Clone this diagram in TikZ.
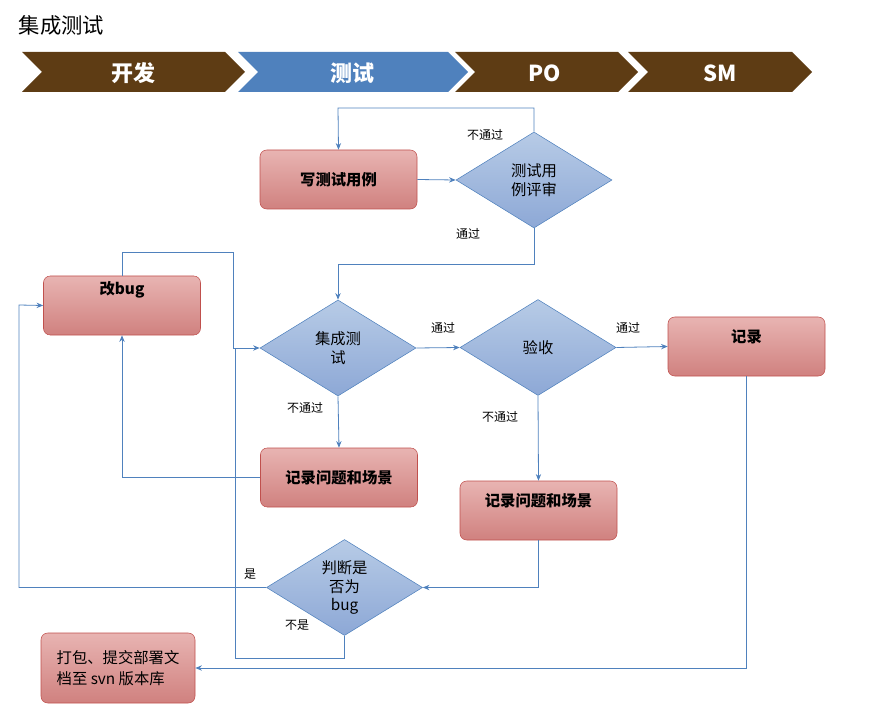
\documentclass[tikz,border=0pt]{standalone}
\usepackage{fontspec}
\setmainfont{Liberation Sans}
\newfontfamily\cjk{Noto Sans CJK SC}
\usetikzlibrary{shapes.geometric,arrows.meta}
\definecolor{brn}{HTML}{5E3C14}
\definecolor{blu}{HTML}{4F81BD}
\definecolor{redb}{HTML}{C0504D}
\definecolor{rtop}{HTML}{E8B4B2}
\definecolor{rbot}{HTML}{D0817F}
\definecolor{btop}{HTML}{B7CBE6}
\definecolor{bbot}{HTML}{8DA8D6}
\begin{document}
\begin{tikzpicture}[x=0.75pt,y=-0.75pt,
  box/.style={draw=redb, rounded corners=5pt, top color=rtop, bottom color=rbot, minimum width=117.75pt, minimum height=44.25pt, font=\cjk\bfseries\fontsize{11.5}{14}\selectfont, inner sep=2pt},
  dia/.style={diamond, draw=blu, top color=btop, bottom color=bbot, minimum width=117pt, minimum height=72pt, inner sep=0pt, aspect=1.6, align=center, font=\cjk\fontsize{11.5}{14}\selectfont},
  con/.style={draw=blu, line width=0.6pt},
  arr/.style={con, -{Stealth[length=5pt,width=4pt]}},
  lab/.style={font=\cjk\fontsize{9}{11}\selectfont, inner sep=1pt},
  chevt/.style={text=white, font=\cjk\bfseries\fontsize{16.5}{18}\selectfont}]
\useasboundingbox (0,0) rectangle (878,709);
\node[anchor=west, font=\cjk\fontsize{16}{19}\selectfont] (title) at (14,25) {集成测试};
\fill[brn] (22,52)--(225,52)--(245,72)--(225,92)--(22,92)--(42,72)--cycle;
\fill[blu] (238,52)--(448,52)--(468,72)--(448,92)--(238,92)--(258,72)--cycle;
\fill[brn] (455,52)--(618,52)--(638,72)--(618,92)--(455,92)--(475,72)--cycle;
\fill[brn] (628,52)--(792,52)--(812,72)--(792,92)--(628,92)--(648,72)--cycle;
\node[chevt] (c1) at (133,73) {开发};
\node[chevt] (c2) at (352,73) {测试};
\node[chevt] (c3) at (545,73) {PO};
\node[chevt] (c4) at (720,73) {SM};

\node[box] (tc) at (338.5,179.5) {写测试用例};
\node[box, text depth=26pt] (bug) at (122,305.5) {改bug};
\node[box, text depth=16pt] (rec) at (746.5,346.5) {记录};
\node[box] (r1) at (339,477.5) {记录问题和场景};
\node[box, text depth=16pt] (r2) at (538.5,510.5) {记录问题和场景};
\node[box, minimum width=115.5pt, minimum height=52.5pt, font=\cjk\fontsize{11.5}{16}\selectfont, align=left] (pk) at (118,668) {打包、提交部署文\\档至 svn 版本库};

\node[dia] (rv) at (534,180) {测试用\\例评审};
\node[dia] (it) at (338,348) {集成测\\试};
\node[dia] (ys) at (538,347.5) {验收};
\node[dia] (jd) at (344.5,587.5) {判断是\\否为\\bug};

\draw[arr] (tc.east) -- (rv.west);
\draw[arr] (rv.north) |- (338,108) -- (tc.north);
\node[lab] (l1) at (485,135) {不通过};
\draw[arr] (rv.south) |- (338,264) -- (it.north);
\node[lab] (l2) at (468,234) {通过};
\draw[arr] (it.east) -- (ys.west);
\node[lab] (l3) at (443,328) {通过};
\draw[arr] (ys.east) -- (rec.west);
\node[lab] (l4) at (628,328) {通过};
\draw[arr] (it.south) -- (r1.north);
\node[lab] (l5) at (305,408) {不通过};
\draw[arr] (ys.south) -- (r2.north);
\node[lab] (l6) at (500,417) {不通过};
\draw[arr] (r1.west) -| (bug.south);
\draw[arr] (bug.north) |- (233,252) |- (it.west);
\draw[arr] (r2.south) |- (jd.east);
\draw[arr] (jd.west) -| (19,305) -- (bug.west);
\node[lab] (l7) at (250,574) {是};
\draw[con] (jd.south) |- (235,658) -- (235,348);
\node[lab] (l8) at (297,625) {不是};
\draw[arr] (rec.south) |- (pk.east);
\end{tikzpicture}
\end{document}
